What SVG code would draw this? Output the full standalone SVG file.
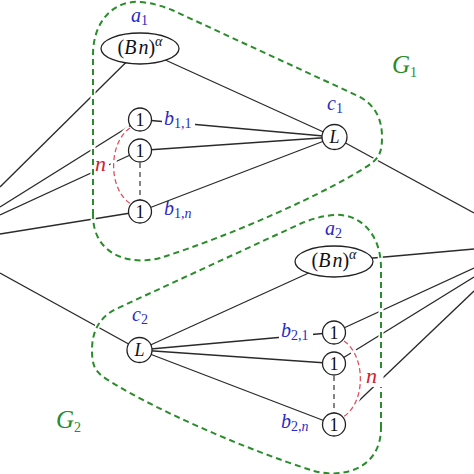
<svg xmlns="http://www.w3.org/2000/svg" xmlns:xlink="http://www.w3.org/1999/xlink" width="474" height="474" viewBox="0 0 474 474">
<style>
.ln{stroke:#2a2a2a;stroke-width:1.3;fill:none}
.vd{stroke:#444;stroke-width:1.3;stroke-dasharray:5 4;fill:none}
.halo{stroke:#fff;stroke-width:5;fill:none}
.grn{stroke:#2a8c2a;stroke-width:2;stroke-dasharray:6 4;fill:none}
.redhalo{stroke:#fff;stroke-width:6;fill:none}
.red{stroke:#e05060;stroke-width:1.3;stroke-dasharray:5 3;fill:none}
.nd{fill:#fff;stroke:#222;stroke-width:1.3}
.t{font-family:"Liberation Serif","DejaVu Serif",serif;fill:#111}
.it{font-style:italic}
.bl{font-family:"Liberation Serif","DejaVu Serif",serif;fill:#2a2ac8;font-style:italic;font-size:20px}
.gr{font-family:"Liberation Serif","DejaVu Serif",serif;fill:#2a8c2a;font-style:italic;font-size:25px}
.rd{font-family:"Liberation Serif","DejaVu Serif",serif;fill:#d02030;font-style:italic;font-size:22px}
.sub{font-style:normal;font-size:14px}
.bg{fill:#fff}
</style>
<defs>
<path id="hull" d="M93,215 L93,55 C93,20 115,0 140,2 C152,3 162,6 172,10 L358,96 C376,105 382,120 382,137 C382,152 379,157 372,163 C330,192 230,236 160,258 C130,266 93,255 93,215 Z"/>
<path id="arc" d="M130,128 C108,143 108,190 131,204"/>
</defs>
<g id="connectors">
<line class="ln" x1="140" y1="48.5" x2="0" y2="187"/>
<line class="ln" x1="140" y1="48.5" x2="334.5" y2="137"/>
<line class="ln" x1="140" y1="119.5" x2="0" y2="207"/>
<line class="ln" x1="140" y1="150.5" x2="0" y2="215"/>
<line class="ln" x1="140" y1="211.5" x2="0" y2="234"/>
<line class="ln" x1="140" y1="119.5" x2="334.5" y2="137"/>
<line class="ln" x1="140" y1="150.5" x2="334.5" y2="137"/>
<line class="ln" x1="140" y1="211.5" x2="334.5" y2="137"/>
<line class="ln" x1="334.5" y1="137" x2="474" y2="213"/>
<line class="ln" x1="139.5" y1="350" x2="0" y2="273"/>
<line class="ln" x1="139.5" y1="350" x2="334" y2="261.5"/>
<line class="ln" x1="139.5" y1="350" x2="334" y2="332.5"/>
<line class="ln" x1="139.5" y1="350" x2="334" y2="363.5"/>
<line class="ln" x1="139.5" y1="350" x2="334" y2="424.5"/>
<line class="ln" x1="334" y1="261.5" x2="474" y2="249"/>
<line class="ln" x1="334" y1="332.5" x2="474" y2="268"/>
<line class="ln" x1="334" y1="363.5" x2="474" y2="277"/>
<line class="ln" x1="334" y1="424.5" x2="474" y2="291"/>
<line class="vd" x1="140" y1="163" x2="140" y2="200"/>
<line class="vd" x1="334" y1="376" x2="334" y2="413"/>
</g>
<g id="G1">
<use xlink:href="#hull" class="halo"/>
<use xlink:href="#hull" class="grn"/>
<text class="gr" x="392" y="73">G<tspan class="sub" font-size="16px" dy="4">1</tspan></text>
</g>
<g id="G2">
<use xlink:href="#hull" class="halo" transform="translate(474,213) scale(-1,1)"/>
<use xlink:href="#hull" class="grn" transform="translate(474,213) scale(-1,1)"/>
<text class="gr" x="56" y="428">G<tspan class="sub" font-size="16px" dy="4">2</tspan></text>
</g>
<g id="n1">
<use xlink:href="#arc" class="redhalo"/>
<use xlink:href="#arc" class="red"/>
<rect class="bg" x="94" y="155" width="15" height="18"/>
<text class="rd" x="95" y="171">n</text>
</g>
<g id="n2">
<use xlink:href="#arc" class="redhalo" transform="translate(474,213) scale(-1,1)"/>
<use xlink:href="#arc" class="red" transform="translate(474,213) scale(-1,1)"/>
<rect class="bg" x="365" y="368" width="18" height="19"/>
<text class="rd" x="366" y="383">n</text>
</g>
<g id="a1">
<ellipse class="nd" cx="140" cy="48.5" rx="39" ry="15.5"/>
<text class="t" x="140" y="54" font-size="20" text-anchor="middle">(<tspan class="it">B</tspan><tspan class="it" dx="2">n</tspan>)<tspan class="it" font-size="14" dy="-8">α</tspan></text>
<text class="bl" x="131" y="22">a<tspan class="sub" dy="3">1</tspan></text>
</g>
<g id="b11">
<circle class="nd" cx="140" cy="119.5" r="11.5"/>
<text class="t" x="140" y="125.5" font-size="18" text-anchor="middle">1</text>
<rect class="bg" x="162" y="110" width="33" height="19"/>
<text class="bl" x="164" y="125">b<tspan class="sub" dy="3">1,1</tspan></text>
</g>
<g id="b1m">
<circle class="nd" cx="140" cy="150.5" r="11.5"/>
<text class="t" x="140" y="156.5" font-size="18" text-anchor="middle">1</text>
</g>
<g id="b1n">
<circle class="nd" cx="140" cy="211.5" r="11.5"/>
<text class="t" x="140" y="217.5" font-size="18" text-anchor="middle">1</text>
<text class="bl" x="164" y="215">b<tspan class="sub" dy="3">1,<tspan class="it">n</tspan></tspan></text>
</g>
<g id="c1">
<circle class="nd" cx="334.5" cy="137" r="12.5"/>
<text class="t it" x="334.5" y="143" font-size="18" text-anchor="middle">L</text>
<text class="bl" x="327" y="110">c<tspan class="sub" dy="3">1</tspan></text>
</g>
<g id="a2">
<ellipse class="nd" cx="334" cy="261.5" rx="39" ry="15.5"/>
<text class="t" x="334" y="267" font-size="20" text-anchor="middle">(<tspan class="it">B</tspan><tspan class="it" dx="2">n</tspan>)<tspan class="it" font-size="14" dy="-8">α</tspan></text>
<text class="bl" x="325" y="235">a<tspan class="sub" dy="3">2</tspan></text>
</g>
<g id="b21">
<circle class="nd" cx="334" cy="332.5" r="11.5"/>
<text class="t" x="334" y="338.5" font-size="18" text-anchor="middle">1</text>
<rect class="bg" x="279" y="322" width="34" height="19"/>
<text class="bl" x="281" y="337">b<tspan class="sub" dy="3">2,1</tspan></text>
</g>
<g id="b2m">
<circle class="nd" cx="334" cy="363.5" r="11.5"/>
<text class="t" x="334" y="369.5" font-size="18" text-anchor="middle">1</text>
</g>
<g id="b2n">
<circle class="nd" cx="334" cy="424.5" r="11.5"/>
<text class="t" x="334" y="430.5" font-size="18" text-anchor="middle">1</text>
<text class="bl" x="281" y="428">b<tspan class="sub" dy="3">2,<tspan class="it">n</tspan></tspan></text>
</g>
<g id="c2">
<circle class="nd" cx="139.5" cy="350" r="12.5"/>
<text class="t it" x="139.5" y="356" font-size="18" text-anchor="middle">L</text>
<text class="bl" x="132" y="321">c<tspan class="sub" dy="3">2</tspan></text>
</g>
</svg>
